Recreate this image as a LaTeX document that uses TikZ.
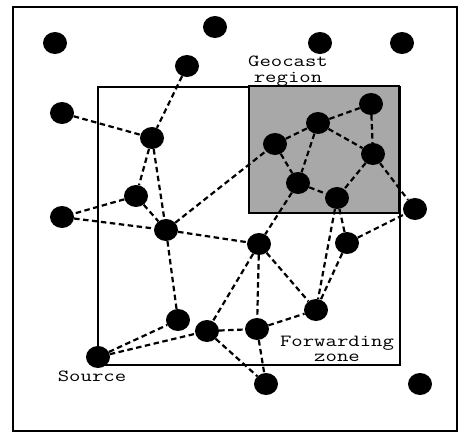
\documentclass[tikz,border=0pt]{standalone}
\usepackage{fontspec}
\usepackage{tikz}
\usetikzlibrary{shapes.geometric}
\newfontfamily\labelfont[FakeStretch=1.3]{Latin Modern Mono}
\definecolor{regiongray}{RGB}{168,168,168}

\begin{document}
\begin{tikzpicture}[x=1pt, y=-1pt,
    host/.style={ellipse, fill=black, minimum width=24pt, minimum height=22pt, inner sep=0pt},
    link/.style={line width=2.2pt, dash pattern=on 5.5pt off 3.5pt},
    tag/.style={font=\labelfont\fontsize{17pt}{15.5pt}\selectfont, align=center, inner sep=0pt}]
    \useasboundingbox (0,0) rectangle (474,440);

    % Draw the outer frame and the two zones
    \draw[line width=1.8pt] (13,7) rectangle (457,431);
    \draw[line width=1.8pt] (98,87) rectangle (400,365);
    \draw[fill=regiongray, line width=2.2pt] (249,86) rectangle (399,213);

    % Place the hosts
    \foreach \n/\x/\y in {n1/55/43, n2/215/27, n3/187/66, n4/62/113, n5/152/138,
        n6/136/196, n7/62/217, n8/320/43, n9/402/43, n10/371/104, n11/318/123,
        n12/275/144, n13/373/154, n14/298/183, n15/337/198, n16/415/209,
        n17/166/230, n18/259/244, n19/347/243, n20/316/310, n21/178/320,
        n22/207/331, n23/257/329, src/98/357, n25/266/384, n26/420/384}
        \node[host] (\n) at (\x,\y) {};

    % Connect the hosts
    \foreach \a/\b in {n3/n5, n4/n5, n5/n6, n5/n17, n6/n7, n6/n17, n7/n17,
        n17/n12, n17/n18, n17/n21, n12/n11, n12/n14, n11/n10, n11/n14, n11/n13,
        n10/n13, n14/n15, n13/n15, n13/n16, n14/n18, n15/n20, n15/n19, n19/n20,
        n19/n16, n18/n20, n18/n22, n18/n23, n22/n23, n23/n20, src/n21, src/n22,
        n22/n25, n23/n25}
        \draw[link] (\a) -- (\b);

    % Labels
    \node[tag] (geo) at (288,71) {Geocast\\region};
    \node[tag] (fwd) at (337,349) {Forwarding\\zone};
    \node[tag] (srclabel) at (92,376) {Source};
\end{tikzpicture}
\end{document}
